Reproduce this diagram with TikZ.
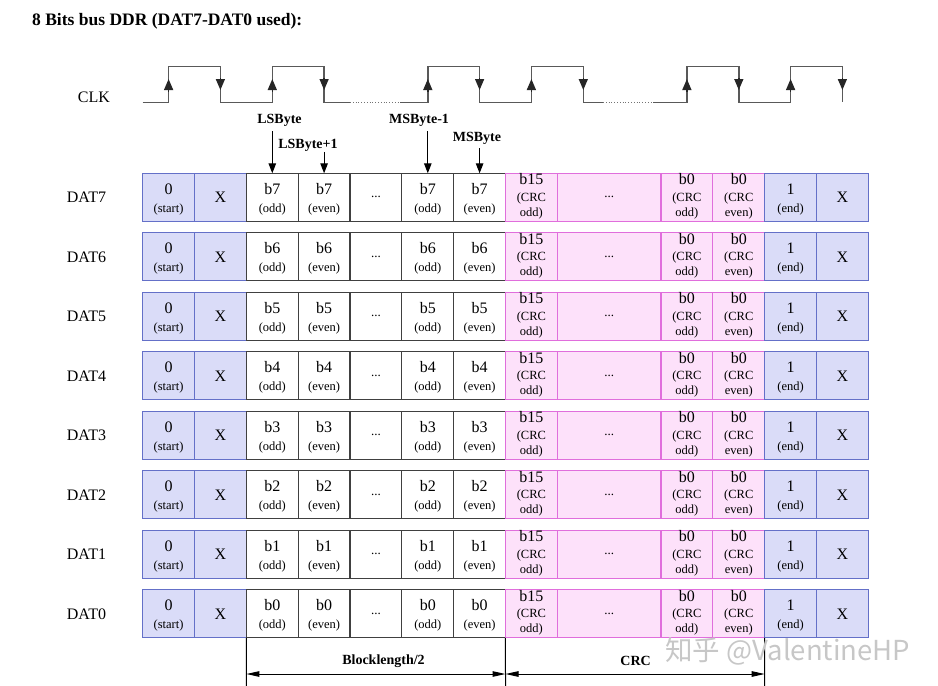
\documentclass[tikz,border=0pt]{standalone}
\usepackage{fontspec}
\setmainfont{Liberation Serif}
\newfontfamily\zhfont{Noto Sans CJK SC}
\usetikzlibrary{arrows.meta}

\definecolor{startblue}{HTML}{DADCF8}
\definecolor{startedge}{HTML}{6470C8}
\definecolor{crcpink}{HTML}{FDE1FA}
\definecolor{crcedge}{HTML}{E06EDC}

% two-line cell text: bit name over parity
\newcommand{\bitpair}[2]{\rule{0pt}{15pt}#1\\{\fontsize{12.5}{15}\selectfont #2}}
% three-line CRC cell text
\newcommand{\crcbit}[2]{#1\\[-1.5pt]{\fontsize{12.5}{15}\selectfont (CRC}\\[-3pt]{\fontsize{12.5}{15}\selectfont #2}}

\begin{document}
\begin{tikzpicture}[x=1pt, y=-1pt,
    cellbase/.style={minimum width=51.83pt, minimum height=48pt, inner sep=0pt, outer sep=0pt,
        line width=1.1pt, align=center, font=\fontsize{16}{18}\selectfont},
    bluecell/.style={cellbase, draw=startedge, fill=startblue},
    bitcell/.style={cellbase, draw=black!75, fill=white},
    crccell/.style={cellbase, draw=crcedge, fill=crcpink},
    crcbits/.style={crccell, text depth=4.5pt},
    rowlabel/.style={font=\fontsize{16}{18}\selectfont, inner sep=0pt},
    bytelabel/.style={font=\bfseries\fontsize{14}{16}\selectfont, inner sep=4pt},
    clkline/.style={line width=1.4pt, draw=black!65},
    edgetip/.style={-{Triangle[length=11pt, width=9pt]}, line width=1.4pt, black!85},
    bytearrow/.style={-{Triangle[length=10pt, width=7.5pt]}, line width=1.1pt},
    dimarrow/.style={{Triangle[length=13pt, width=5.5pt]}-{Triangle[length=13pt, width=5.5pt]}, line width=1pt},
]

    \useasboundingbox (0,0) rectangle (938,686);

    %% Title
    \node[anchor=base west, inner sep=0pt, font=\bfseries\fontsize{17.5}{17.5}\selectfont] (title) at (32,25)
        {8 Bits bus DDR (DAT7-DAT0 used):};

    %% Clock
    \begin{scope}
        \node[rowlabel] (clk) at (93.9,97) {CLK};

        % Waveform
        \draw[clkline] (142.7,102.3) -| (168.6,66.5) -| (220.4,102.3) -| (272.3,66.5) -| (324.1,102.3) -- (350,102.3);
        \draw[clkline] (400,102.3) -| (427.8,66.5) -| (479.6,102.3) -| (531.4,66.5) -| (583.3,102.3) -- (603,102.3);
        \draw[clkline] (653,102.3) -| (686.9,66.5) -| (738.8,102.3) -| (790.6,66.5) -| (842.4,102.3);
        \draw[black!55, line width=0.8pt, dotted] (350,102.3) -- (400,102.3);
        \draw[black!55, line width=0.8pt, dotted] (603,102.3) -- (653,102.3);

        % Edges
        \foreach \x in {168.6,272.3,427.8,531.4,686.9,790.6}
            \draw[edgetip] (\x,92) -- (\x,79);
        \foreach \x in {220.4,324.1,479.6,583.3,738.8,842.4}
            \draw[edgetip] (\x,78) -- (\x,90);
    \end{scope}

    %% Data lines
    \foreach \dd [count=\i from 0] in {7,6,5,4,3,2,1,0} {
        \pgfmathsetmacro\yy{197.3+59.5*\i}
        \node[rowlabel] (lab\dd) at (86.5,\yy) {DAT\dd};

        % start and X
        \node[bluecell] (d\dd-0) at (168.6,\yy) {\bitpair{0}{(start)}};
        \node[bluecell] (d\dd-1) at (220.4,\yy) {X};

        % data bytes
        \node[bitcell] (d\dd-2) at (272.3,\yy) {\bitpair{b\dd}{(odd)}};
        \node[bitcell] (d\dd-3) at (324.1,\yy) {\bitpair{b\dd}{(even)}};
        \node[bitcell, font=\fontsize{13}{13}\selectfont] (d\dd-4) at (375.9,\yy) {...};
        \node[bitcell] (d\dd-5) at (427.8,\yy) {\bitpair{b\dd}{(odd)}};
        \node[bitcell] (d\dd-6) at (479.6,\yy) {\bitpair{b\dd}{(even)}};

        % CRC
        \node[crcbits] (d\dd-7) at (531.4,\yy) {\crcbit{b15}{odd)}};
        \node[crccell, minimum width=103.66pt, font=\fontsize{13}{13}\selectfont] (d\dd-8) at (609.2,\yy) {...};
        \node[crcbits] (d\dd-10) at (686.9,\yy) {\crcbit{b0}{odd)}};
        \node[crcbits] (d\dd-11) at (738.8,\yy) {\crcbit{b0}{even)}};

        % end and X
        \node[bluecell] (d\dd-12) at (790.6,\yy) {\bitpair{1}{(end)}};
        \node[bluecell] (d\dd-13) at (842.4,\yy) {X};
    }

    %% Byte markers
    \node[bytelabel] (lsb) at (279.5,120.7) {LSByte};
    \node[bytelabel, inner sep=0.5pt] (lsb1) at (308,145) {LSByte+1};
    \node[bytelabel] (msb1) at (419,120.7) {MSByte-1};
    \node[bytelabel] (msb) at (477,138) {MSByte};

    \draw[bytearrow] (lsb.south -| d7-2.north) -- (d7-2.north);
    \draw[bytearrow] (lsb1.south -| d7-3.north) -- (d7-3.north);
    \draw[bytearrow] (msb1.south -| d7-5.north) -- (d7-5.north);
    \draw[bytearrow] (msb.south -| d7-6.north) -- (d7-6.north);

    %% Lengths
    \coordinate (lenL) at (246.4,686);
    \coordinate (lenM) at (505.5,686);
    \coordinate (lenR) at (764.7,686);
    \draw[line width=1pt] (d0-2.south west) -- (lenL);
    \draw[line width=1pt] (d0-7.south west) -- (lenM);
    \draw[line width=1pt] (d0-12.south west) -- (lenR);
    \draw[dimarrow] ([yshift=12pt]lenL) -- ([yshift=12pt]lenM);
    \draw[dimarrow] ([yshift=12pt]lenM) -- ([yshift=12pt]lenR);
    \node[bytelabel] (blk) at (383.5,660.7) {Blocklength/2};
    \node[bytelabel] (crc) at (635.6,660.7) {CRC};

    % Watermark
    \node[anchor=base west, inner sep=0pt, text=black!22, font=\zhfont\fontsize{27.5}{27.5}\selectfont] (mark) at (665,660)
        {知乎 @ValentineHP};

\end{tikzpicture}
\end{document}
